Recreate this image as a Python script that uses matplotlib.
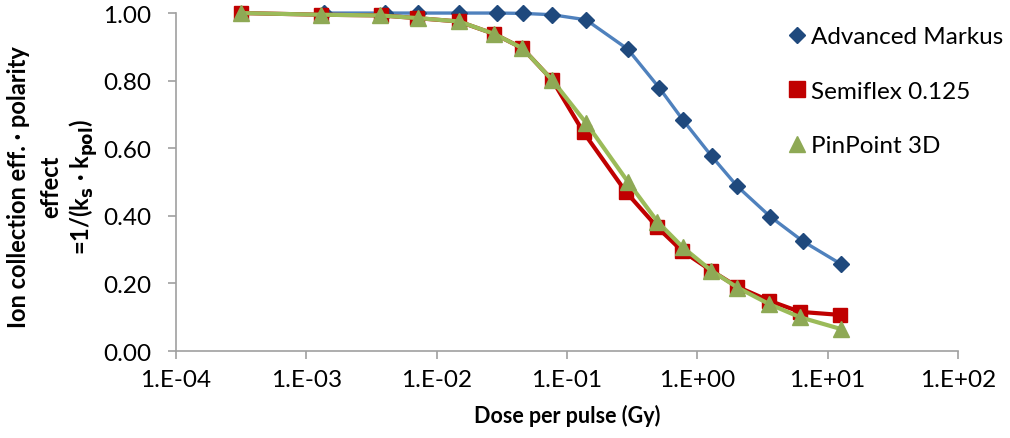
import matplotlib
matplotlib.use('Agg')
import matplotlib.pyplot as plt
from matplotlib.lines import Line2D

# Data (dose per pulse in Gy, 1/(ks*kpol))
markus_dose = [1.37e-3, 4.0e-3, 7.2e-3, 0.0149, 0.0289, 0.0458, 0.0769, 0.140,
               0.293, 0.512, 0.774, 1.29, 2.03, 3.62, 6.45, 12.7]
markus_val = [1.0, 1.0, 1.0, 1.0, 1.0, 0.999, 0.995, 0.98,
              0.893, 0.778, 0.684, 0.576, 0.487, 0.398, 0.325, 0.257]

semiflex_dose = [3.15e-4, 1.30e-3, 3.74e-3, 7.03e-3, 0.0148, 0.0277, 0.0455, 0.0769, 0.134,
                 0.283, 0.494, 0.76, 1.28, 2.01, 3.56, 6.15, 12.5]
semiflex_val = [1.0, 0.995, 0.993, 0.985, 0.975, 0.938, 0.896, 0.802, 0.647,
                0.471, 0.366, 0.297, 0.238, 0.191, 0.149, 0.116, 0.107]

pinpoint_dose = [3.15e-4, 1.30e-3, 3.65e-3, 7.2e-3, 0.0149, 0.0277, 0.0455, 0.0769, 0.140,
                 0.293, 0.494, 0.774, 1.28, 2.03, 3.56, 6.15, 12.7]
pinpoint_val = [1.0, 0.995, 0.993, 0.985, 0.975, 0.938, 0.896, 0.802, 0.675,
                0.501, 0.383, 0.307, 0.238, 0.188, 0.139, 0.10, 0.065]

xticks = [1e-4, 1e-3, 1e-2, 1e-1, 1e0, 1e1, 1e2]
xtick_labels = ['1.E-04', '1.E-03', '1.E-02', '1.E-01', '1.E+00', '1.E+01', '1.E+02']
yticks = [0.0, 0.2, 0.4, 0.6, 0.8, 1.0]
ytick_labels = ['0.00', '0.20', '0.40', '0.60', '0.80', '1.00']

plt.rcParams['font.family'] = ['Lato', 'DejaVu Sans']

fig = plt.figure(figsize=(10.1, 4.39), dpi=100)
ax = fig.add_axes([0.1743, 0.198, 0.9485 - 0.1743, 0.968 - 0.198])

blue_line, blue_mk = '#4F81BD', '#1F497D'
red = '#C00000'
green_line, green_mk = '#9BBB59', '#8EA955'

ax.plot(markus_dose, markus_val, color=blue_line, lw=2.4, zorder=2)
ax.plot(markus_dose, markus_val, ls='none', marker='D', ms=8.5, color=blue_mk, zorder=3)
ax.plot(semiflex_dose, semiflex_val, color=red, lw=3, zorder=4)
ax.plot(semiflex_dose, semiflex_val, ls='none', marker='s', ms=10, color=red, zorder=5)
ax.plot(pinpoint_dose, pinpoint_val, color=green_line, lw=3, zorder=6)
ax.plot(pinpoint_dose, pinpoint_val, ls='none', marker='^', ms=11.5, color=green_mk, zorder=7)

ax.set_xscale('log')
ax.set_xlim(1e-4, 1e2)
ax.set_ylim(0, 1.0)
ax.set_xticks(xticks)
ax.set_xticklabels(xtick_labels)
ax.minorticks_off()
ax.set_yticks(yticks)
ax.set_yticklabels(ytick_labels)

for s in ['top', 'right']:
    ax.spines[s].set_visible(False)
for s in ['left', 'bottom']:
    ax.spines[s].set_color('#A0A0A0')
    ax.spines[s].set_linewidth(1.2)
ax.tick_params(axis='both', colors='#A0A0A0', length=6, width=1.2, labelsize=17.5,
               labelcolor='black')
ax.tick_params(axis='x', pad=7)
ax.tick_params(axis='y', pad=12)
for l in ax.lines:
    l.set_clip_on(False)

ax.set_xlabel('Dose per pulse (Gy)', fontsize=15.5, fontweight='bold', labelpad=10)
fig.text(0.018, 0.575, 'Ion collection eff. · polarity', rotation=90, fontsize=17,
         fontweight='bold', ha='center', va='center')
fig.text(0.050, 0.575, 'effect', rotation=90, fontsize=17,
         fontweight='bold', ha='center', va='center')
fig.text(0.083, 0.575, r'=1/(k$_\mathbf{s}$ · k$_\mathbf{pol}$)', rotation=90, fontsize=17,
         fontweight='bold', ha='center', va='center')

handles = [
    Line2D([], [], ls='none', marker='D', ms=8, color=blue_mk),
    Line2D([], [], ls='none', marker='s', ms=11, color=red),
    Line2D([], [], ls='none', marker='^', ms=11, color=green_mk),
]
labels = ['Advanced Markus', 'Semiflex 0.125', 'PinPoint 3D']
fig.legend(handles, labels, loc='upper left', bbox_to_anchor=(0.772, 0.96),
           frameon=False, fontsize=17.5, handlelength=0.6, handletextpad=0.3,
           labelspacing=1.38, borderaxespad=0)

fig.savefig('out.png', dpi=100)
